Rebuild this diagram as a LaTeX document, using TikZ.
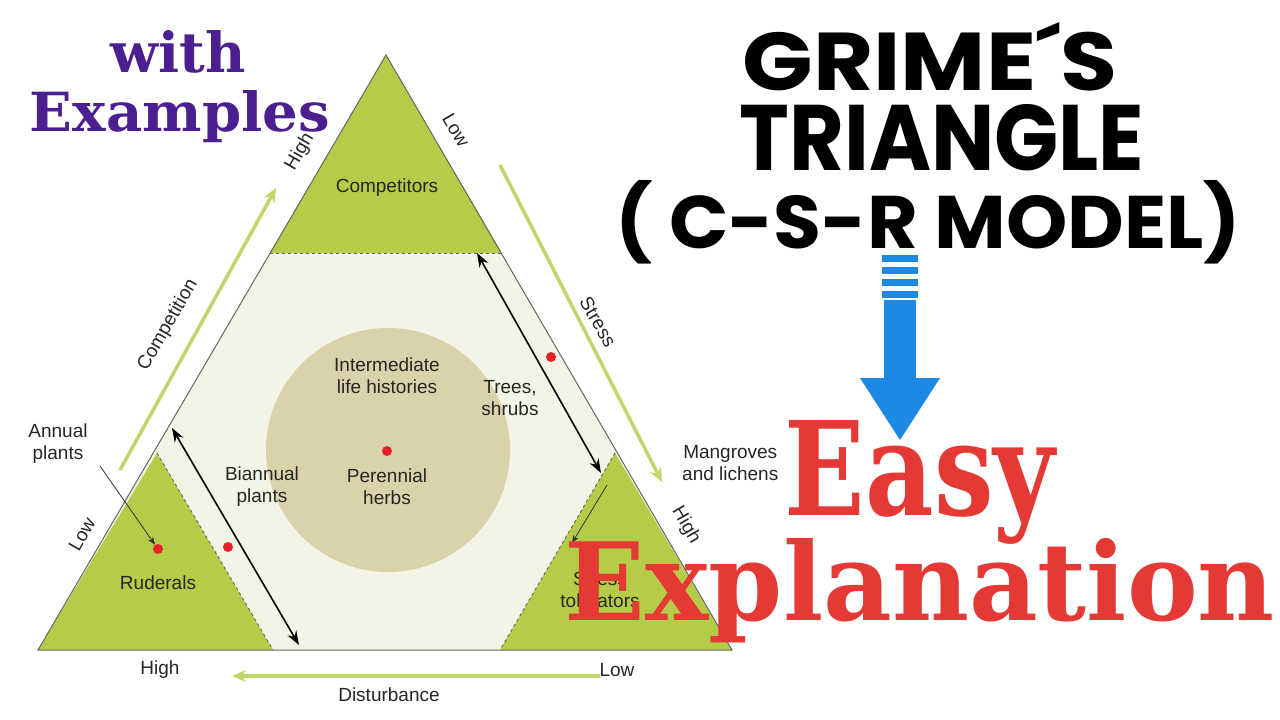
\documentclass[tikz,border=0pt]{standalone}
\usepackage{fontspec}
\usepackage{graphicx}
\setmainfont{Liberation Sans}
\newfontfamily\titlefont{Poppins}
\newfontfamily\slabfont{DejaVu Serif}
\usetikzlibrary{arrows.meta}
\definecolor{grn}{HTML}{B5CC48}
\definecolor{lgrn}{HTML}{BFD66A}
\definecolor{cream}{HTML}{F3F3E6}
\definecolor{tan}{HTML}{D9D2AA}
\definecolor{dotred}{HTML}{E8202A}
\definecolor{purp}{HTML}{4B1F8F}
\definecolor{bred}{HTML}{E53935}
\definecolor{blu}{HTML}{1E88E5}
\tikzset{
  lbl/.style={font=\fontsize{19}{22}\selectfont, text=black!85, align=center, inner sep=0pt},
  rdot/.style={circle, fill=dotred, minimum size=10pt, inner sep=0pt},
  dbl/.style={{Stealth[length=14pt,width=10pt]}-{Stealth[length=14pt,width=10pt]}, line width=1.6pt},
  garr/.style={-{Stealth[length=14pt,width=12pt]}, line width=3.5pt, draw=lgrn},
  thinarr/.style={-{Stealth[length=8pt,width=6pt]}, line width=0.8pt, draw=black!80},
  outline/.style={draw=black!60, line width=1pt},
  dashline/.style={draw=black!60, line width=0.9pt, dashed},
  big/.style={inner sep=0pt, anchor=base},
}
\begin{document}
\begin{tikzpicture}[x=1pt,y=-1pt]
\useasboundingbox (0,0) rectangle (1280,720);
\fill[white] (0,0) rectangle (1280,720);
% main triangle
\coordinate (T) at (386,55); \coordinate (L) at (38,650); \coordinate (R) at (732,650);
\fill[cream] (T) -- (L) -- (R) -- cycle;
\fill[tan] (388,450) circle (122);
% green triangles
\fill[grn] (T) -- (270,253) -- (502,253) -- cycle;
\fill[grn] (157,453) -- (L) -- (273,650) -- cycle;
\fill[grn] (615,453) -- (500,650) -- (R) -- cycle;
\draw[dashline] (270,253) -- (502,253);
\draw[dashline] (157,453) -- (273,650);
\draw[dashline] (615,453) -- (500,650);
\draw[outline] (T) -- (L) -- (R) -- cycle;
% green arrows
\coordinate (ga1) at (120,470); \coordinate (ga2) at (276,188);
\draw[garr] (ga1) -- (ga2);
\coordinate (gb1) at (500,165); \coordinate (gb2) at (662,482);
\draw[garr] (gb1) -- (gb2);
\coordinate (gc1) at (600,676); \coordinate (gc2) at (232,676);
\draw[garr] (gc1) -- (gc2);
% black double arrows
\coordinate (da1) at (172,428); \coordinate (da2) at (299,645);
\draw[dbl] (da1) -- (da2);
\coordinate (db1) at (477,253); \coordinate (db2) at (601,473);
\draw[dbl] (db1) -- (db2);
% dots
\node[rdot] (d1) at (158,549) {};
\node[rdot] (d2) at (228,547) {};
\node[rdot] (d3) at (387,451) {};
\node[rdot] (d4) at (551,357) {};
% labels
\node[lbl] (comp) at (387,188) {Competitors};
\node[lbl] (rud) at (158,583) {Ruderals};
\node[lbl] (inter) at (387,376) {Intermediate\\life histories};
\node[lbl] (peren) at (387,487) {Perennial\\herbs};
\node[lbl] (bian) at (262,487) {Biannual\\plants};
\node[lbl] (trees) at (510,398) {Trees,\\shrubs};
\node[lbl] (ann) at (58,444) {Annual\\plants};
\draw[thinarr] (100,466) -- (d1);
\node[lbl] (stol) at (600,590) {Stress\\tolerators};
\node[lbl, anchor=west] (mang) at (682,463) {Mangroves\\and lichens};
\coordinate (mg1) at (607,485); \coordinate (mg2) at (572,543);
\draw[thinarr] (mg1) -- (mg2);
\node[lbl, rotate=60] (h1) at (300,152) {High};
\node[lbl, rotate=-60] (l1) at (456,130) {Low};
\node[lbl, rotate=60] (cp) at (168,325) {Competition};
\node[lbl, rotate=-60] (st) at (598,322) {Stress};
\node[lbl, rotate=60] (l2) at (82,534) {Low};
\node[lbl, rotate=-60] (h2) at (686,525) {High};
\node[lbl] (h3) at (160,670) {High};
\node[lbl] (l3) at (617,670) {Low};
\node[lbl] (dist) at (389,695) {Disturbance};
% blue arrow
\foreach \y in {255,267,279,291}{\fill[blu] (882,\y) rectangle (918,\y+7);}
\fill[blu] (884,300) rectangle (916,380);
\fill[blu] (860,378) -- (940,378) -- (900,440) -- cycle;
% titles
\node[big] (t1) at (930,90) {\resizebox{375pt}{68pt}{\titlefont\bfseries GRIME´S}};
\node[big] (t2) at (942,170) {\resizebox{405pt}{66pt}{\titlefont\bfseries TRIANGLE}};
\node[big] (t3) at (928,248) {\resizebox{625pt}{68pt}{\titlefont\bfseries ( C-S-R MODEL)}};
\node[big] (w1) at (178,72) {\resizebox{135pt}{42pt}{\slabfont\bfseries\color{purp}with}};
\node[big] (w2) at (180,131) {\resizebox{300pt}{41pt}{\slabfont\bfseries\color{purp}Examples}};
\node[big] (e1) at (920,515) {\resizebox{270pt}{95pt}{\slabfont\bfseries\color{bred}Easy}};
\node[big] (e2) at (920,620) {\resizebox{710pt}{82pt}{\slabfont\bfseries\color{bred}Explanation}};
\end{tikzpicture}
\end{document}
